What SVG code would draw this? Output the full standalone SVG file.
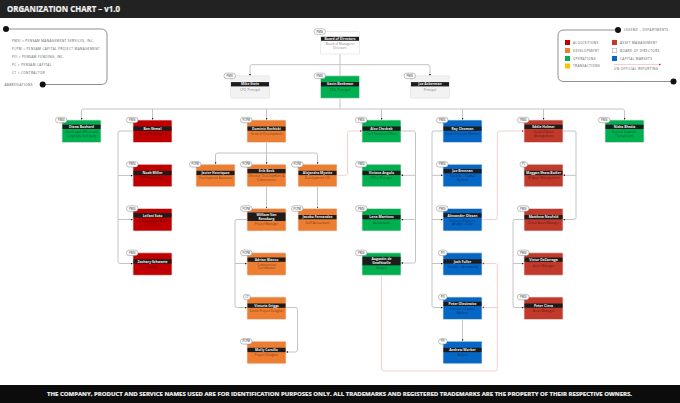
<svg xmlns="http://www.w3.org/2000/svg" width="680" height="403" viewBox="0 0 680 403">
<style>
text{font-family:"Open Sans","Liberation Sans",sans-serif}
.c{fill:none;stroke:#c4c4c4;stroke-width:1;marker-end:url(#a)}
.n{fill:none;stroke:#c4c4c4;stroke-width:1}
.pa{fill:none;stroke:#f4c4c4;stroke-width:.8;marker-end:url(#r)}
.b{width:39px;height:22.5px;rx:1px;stroke:#e4e4e4;stroke-width:.7}
.acq{fill:#c00000}.dev{fill:#ed7d31}.ops{fill:#00b050}.tra{fill:#ffc000}.ast{fill:#c0392b}.bod{fill:#fff}.cap{fill:#0566c4}.pri{fill:#f2f2f2}
.s{fill:#1c1c1c}
.t{font-size:3.4px;font-weight:700;fill:#f2f2f2;text-anchor:middle}
.u{font-size:3px;fill:#000;fill-opacity:.6;text-anchor:middle;letter-spacing:.05px}
.pl{fill:#fff;stroke:#808080;stroke-width:.5}
.pt{font-size:2.8px;fill:#222;text-anchor:middle}
.k{font-size:3.1px;fill:#555;letter-spacing:.39px}
.f{fill:none;stroke:#8f8f8f;stroke-width:1}
.hd{font-weight:700;fill:#f2f2f2;stroke:#f2f2f2;stroke-width:.2}
</style>
<defs>
<marker id="a" markerUnits="userSpaceOnUse" markerWidth="2" markerHeight="2" refX="2" refY="1" orient="auto"><path d="M0 0L2 1L0 2z" fill="#222"/></marker>
<marker id="r" markerUnits="userSpaceOnUse" markerWidth="2.4" markerHeight="2.4" refX="2.4" refY="1.2" orient="auto"><path d="M0 0L2.4 1.2L0 2.4z" fill="#e02020"/></marker>
</defs>
<rect width="680" height="403" fill="#fff"/>
<g id="header"><rect width="680" height="18" fill="#222"/><text class="hd" x="7" y="12.300" font-size="8.400" textLength="113" lengthAdjust="spacingAndGlyphs">ORGANIZATION CHART – v1.0</text></g>
<g id="abbreviations">
<path class="f" d="M6 29H101Q107 29 107 35V79Q107 84.500 101 84.500H43"/>
<circle cx="6" cy="29" r="3" fill="#111"/><circle cx="42.700" cy="84.500" r="3" fill="#111"/>
<text class="k" x="12" y="42">PMSI = PENSAM MANAGEMENT SERVICES, INC.</text>
<text class="k" x="12" y="50">PCPM = PENSAM CAPITAL PROJECT MANAGEMENT</text>
<text class="k" x="12" y="58">PFI = PENSAM FUNDING, INC.</text>
<text class="k" x="12" y="66">PC = PENSAM CAPITAL</text>
<text class="k" x="12" y="74">CT = CONTRACTOR</text>
<text class="k" x="4.500" y="85.500">ABBREVIATIONS</text>
</g>
<g id="legend">
<path class="f" d="M618 30H564Q558 30 558 36V76Q558 81.500 564 81.500H673"/>
<circle cx="618" cy="30" r="3" fill="#111"/><circle cx="673.500" cy="81.500" r="3" fill="#111"/>
<text class="k" x="624" y="31">LEGEND – DEPARTMENTS</text>
<rect class="acq" x="565" y="40" width="5" height="5"/><text class="k" x="573" y="43.500">ACQUISITIONS</text>
<rect class="dev" x="565" y="48" width="5" height="5"/><text class="k" x="573" y="51.500">DEVELOPMENT</text>
<rect class="ops" x="565" y="56" width="5" height="5"/><text class="k" x="573" y="59.500">OPERATIONS</text>
<rect class="tra" x="565" y="63.500" width="5" height="5"/><text class="k" x="573" y="67">TRANSACTIONS</text>
<rect class="ast" x="612" y="40" width="5" height="5"/><text class="k" x="620" y="43.500">ASSET MANAGEMENT</text>
<rect class="bod" x="612.300" y="48.300" width="4.500" height="4.500" stroke="#999" stroke-width=".5"/><text class="k" x="620" y="51.500">BOARD OF DIRECTORS</text>
<rect class="cap" x="612" y="56" width="5" height="5"/><text class="k" x="620" y="59.500">CAPITAL MARKETS</text>
<path class="pa" d="M614 64.500H661"/>
<text class="k" x="614" y="69.500">UN-OFFICIAL REPORTING</text>
</g>
<g id="connectors">
<path class="n" d="M340 54V76"/>
<path class="c" d="M340 64.700H252Q250 64.700 250 66.700V76"/>
<path class="c" d="M340 64.700H428Q430 64.700 430 66.700V76"/>
<path class="n" d="M340 98.500V109"/>
<path class="c" d="M340 109H83Q81.500 109 81.500 111V120"/>
<path class="c" d="M152.500 109V120"/><path class="c" d="M266.500 109V120"/><path class="c" d="M381.500 109V120"/><path class="c" d="M462.500 109V120"/><path class="c" d="M543.500 109V120"/>
<path class="c" d="M340 109H622.500Q624.500 109 624.500 111V120"/>
<path class="c" d="M133 131H120Q118 131 118 133V261.500Q118 263.500 120 263.500H133"/>
<path class="c" d="M118 175.500H133"/><path class="c" d="M118 219.500H133"/>
<path class="c" d="M266.500 142.500V164.300"/>
<path class="c" d="M266.500 153H217.500Q215.500 153 215.500 155V164.300"/>
<path class="c" d="M266.500 153H315.500Q317.500 153 317.500 155V164.300"/>
<path class="c" d="M266.500 186.800V208.500"/>
<path class="c" d="M317.500 186.800V208.500"/>
<path class="c" d="M247 219.500H237Q235 219.500 235 221.500V305.500Q235 307.500 237 307.500H247"/>
<path class="c" d="M235 263.500H247"/>
<path class="c" d="M286 307.500H295.500Q297.500 307.500 297.500 309.500V350Q297.500 352 295.500 352H286"/>
<path class="c" d="M401 131H413.500Q415.500 131 415.500 133V261Q415.500 263 413.500 263H401"/>
<path class="c" d="M415.500 175.300H401"/><path class="c" d="M415.500 219.500H401"/>
<path class="c" d="M443 131H434Q432 131 432 133V305.500Q432 307.500 434 307.500H443"/>
<path class="c" d="M432 175.300H443"/><path class="c" d="M432 219.500H443"/><path class="c" d="M432 263.500H443"/>
<path class="c" d="M462.500 319.500V341.300"/>
<path class="c" d="M563 131H574Q576 131 576 133V217.500Q576 219.500 574 219.500H563"/>
<path class="c" d="M576 175.300H563"/>
<path class="c" d="M524 219.500H515Q513 219.500 513 221.500V305.500Q513 307.500 515 307.500H524"/>
<path class="c" d="M513 263.500H524"/>
<path class="pa" d="M337 175.300H345.500Q347.500 175.300 347.500 173.300V133Q347.500 131 349.500 131H362"/>
<path class="pa" d="M482 219.500H495.300Q497.300 219.500 497.300 217.500V133Q497.300 131 499.300 131H524"/>
<path class="pa" d="M381.500 275.300V369Q381.500 371 383.500 371H495.300Q497.300 371 497.300 369V265.500Q497.300 263.500 495.300 263.500H482"/>
<path class="pa" d="M497.300 307.500H482"/>
</g>
<g id="board" transform="translate(320.500,31.500)"><rect class="b bod"/><rect class="s" x=".5" y="5.300" width="38" height="4"/><text class="t" x="19.500" y="8.500">Board of Directors</text><text class="u" x="19.500" y="13.500">Board of Managers/</text><text class="u" x="19.500" y="17">Directors</text><rect class="pl" x="-6.500" y="-2.700" width="11.500" height="5.500" rx="2.700"/><text class="pt" x="-.7" y="1">PMSI</text></g>
<g id="mike-stein" transform="translate(230.500,75.800)"><rect class="b pri"/><rect class="s" x=".5" y="6.300" width="38" height="4.300"/><text class="t" x="19.500" y="9.700">Mike Stein</text><text class="u" x="19.500" y="15">CFO, Principal</text><rect class="pl" x="-6.500" y="-2.700" width="11.500" height="5.500" rx="2.700"/><text class="pt" x="-.7" y="1">PMSI</text></g>
<g id="gavin-beekman" transform="translate(320.500,75.800)"><rect class="b ops"/><rect class="s" x=".5" y="6.300" width="38" height="4.300"/><text class="t" x="19.500" y="9.700">Gavin Beekman</text><text class="u" x="19.500" y="15">CEO, Principal</text><rect class="pl" x="-6.500" y="-2.700" width="11.500" height="5.500" rx="2.700"/><text class="pt" x="-.7" y="1">PMSI</text></g>
<g id="joe-ackerman" transform="translate(410.500,75.800)"><rect class="b pri"/><rect class="s" x=".5" y="6.300" width="38" height="4.300"/><text class="t" x="19.500" y="9.700">Joe Ackerman</text><text class="u" x="19.500" y="15">Principal</text><rect class="pl" x="-6.500" y="-2.700" width="11.500" height="5.500" rx="2.700"/><text class="pt" x="-.7" y="1">PMSI</text></g>
<g id="diana-bushard" transform="translate(62,120)"><rect class="b ops"/><rect class="s" x=".5" y="4.700" width="38" height="4.300"/><text class="t" x="19.500" y="8.100">Diana Bushard</text><text class="u" x="19.500" y="13">Chief Legal Officer and</text><text class="u" x="19.500" y="16.500">Corporate Secretary</text><rect class="pl" x="-6.500" y="-2.700" width="11.500" height="5.500" rx="2.700"/><text class="pt" x="-.7" y="1">PMSI</text></g>
<g id="ben-shmal" transform="translate(133,120)"><rect class="b acq"/><rect class="s" x=".5" y="6.500" width="38" height="4.300"/><text class="t" x="19.500" y="9.900">Ben Shmal</text><text class="u" x="19.500" y="15">Head of Acquisitions</text><rect class="pl" x="-6.500" y="-2.700" width="11.500" height="5.500" rx="2.700"/><text class="pt" x="-.7" y="1">PMSI</text></g>
<g id="noah-miller" transform="translate(133,164.300)"><rect class="b acq"/><rect class="s" x=".5" y="6.500" width="38" height="4.300"/><text class="t" x="19.500" y="9.900">Noah Miller</text><text class="u" x="19.500" y="15">VP Acquisitions</text><rect class="pl" x="-6.500" y="-2.700" width="11.500" height="5.500" rx="2.700"/><text class="pt" x="-.7" y="1">PMSI</text></g>
<g id="leilani-soto" transform="translate(133,208.500)"><rect class="b acq"/><rect class="s" x=".5" y="4.700" width="38" height="4.300"/><text class="t" x="19.500" y="8.100">Leilani Soto</text><text class="u" x="19.500" y="13">VP Acquisitions &amp; Due</text><text class="u" x="19.500" y="16.500">Diligence</text><rect class="pl" x="-6.500" y="-2.700" width="11.500" height="5.500" rx="2.700"/><text class="pt" x="-.7" y="1">PMSI</text></g>
<g id="zachary-schwartz" transform="translate(133,252.800)"><rect class="b acq"/><rect class="s" x=".5" y="6.500" width="38" height="4.300"/><text class="t" x="19.500" y="9.900">Zachary Schwartz</text><text class="u" x="19.500" y="15">Analyst</text><rect class="pl" x="-6.500" y="-2.700" width="11.500" height="5.500" rx="2.700"/><text class="pt" x="-.7" y="1">PMSI</text></g>
<g id="dominic-rechicki" transform="translate(247,120)"><rect class="b dev"/><rect class="s" x=".5" y="6.500" width="38" height="4.300"/><text class="t" x="19.500" y="9.900">Dominic Rechicki</text><text class="u" x="19.500" y="15">Head of Development</text><rect class="pl" x="-6.500" y="-2.700" width="11.500" height="5.500" rx="2.700"/><text class="pt" x="-.7" y="1">PCPM</text></g>
<g id="javier-henriquez" transform="translate(196,164.300)"><rect class="b dev"/><rect class="s" x=".5" y="6.500" width="38" height="4.300"/><text class="t" x="19.500" y="9.900">Javier Henriquez</text><text class="u" x="19.500" y="15">Development Associate</text><rect class="pl" x="-6.500" y="-2.700" width="11.500" height="5.500" rx="2.700"/><text class="pt" x="-.7" y="1">PCPM</text></g>
<g id="erik-beck" transform="translate(247,164.300)"><rect class="b dev"/><rect class="s" x=".5" y="4.700" width="38" height="4.300"/><text class="t" x="19.500" y="8.100">Erik Beck</text><text class="u" x="19.500" y="12.800">Director, Development &amp;</text><text class="u" x="19.500" y="16.800">Construction</text><rect class="pl" x="-6.500" y="-2.700" width="11.500" height="5.500" rx="2.700"/><text class="pt" x="-.7" y="1">PCPM</text></g>
<g id="alejandra-myette" transform="translate(298,164.300)"><rect class="b dev"/><rect class="s" x=".5" y="6.500" width="38" height="4.300"/><text class="t" x="19.500" y="9.900">Alejandra Myette</text><text class="u" x="19.500" y="15">Development CIO</text><rect class="pl" x="-6.500" y="-2.700" width="11.500" height="5.500" rx="2.700"/><text class="pt" x="-.7" y="1">PCPM</text></g>
<g id="william-van-rensburg" transform="translate(247,208.500)"><rect class="b dev"/><rect class="s" x=".5" y="4" width="38" height="8.500"/><text class="t" x="19.500" y="7.300">William Van</text><text class="t" x="19.500" y="11.200">Rensburg</text><text class="u" x="19.500" y="16">Project Manager</text><rect class="pl" x="-6.500" y="-2.700" width="11.500" height="5.500" rx="2.700"/><text class="pt" x="-.7" y="1">PCPM</text></g>
<g id="jacobo-fernandez" transform="translate(298,208.500)"><rect class="b dev"/><rect class="s" x=".5" y="6.500" width="38" height="4.300"/><text class="t" x="19.500" y="9.900">Jacobo Fernandez</text><text class="u" x="19.500" y="15">Staff Accountant</text><rect class="pl" x="-6.500" y="-2.700" width="11.500" height="5.500" rx="2.700"/><text class="pt" x="-.7" y="1">PCPM</text></g>
<g id="adrian-blanco" transform="translate(247,252.800)"><rect class="b dev"/><rect class="s" x=".5" y="4.700" width="38" height="4.300"/><text class="t" x="19.500" y="8.100">Adrian Blanco</text><text class="u" x="19.500" y="13">Construction</text><text class="u" x="19.500" y="16.500">Coordinator</text><rect class="pl" x="-6.500" y="-2.700" width="11.500" height="5.500" rx="2.700"/><text class="pt" x="-.7" y="1">PCPM</text></g>
<g id="victoria-griggs" transform="translate(247,297)"><rect class="b dev"/><rect class="s" x=".5" y="6.500" width="38" height="4.300"/><text class="t" x="19.500" y="9.900">Victoria Griggs</text><text class="u" x="19.500" y="15">Senior Project Designer</text><rect class="pl" x="-3.700" y="-2.700" width="7" height="5.500" rx="2.700"/><text class="pt" x="-.2" y="1">CT</text></g>
<g id="molly-corsillo" transform="translate(247,341.300)"><rect class="b dev"/><rect class="s" x=".5" y="6.500" width="38" height="4.300"/><text class="t" x="19.500" y="9.900">Molly Corsillo</text><text class="u" x="19.500" y="15">Project Designer</text><rect class="pl" x="-6.500" y="-2.700" width="11.500" height="5.500" rx="2.700"/><text class="pt" x="-.7" y="1">PCPM</text></g>
<g id="alex-chedrak" transform="translate(362,120)"><rect class="b ops"/><rect class="s" x=".5" y="6.500" width="38" height="4.300"/><text class="t" x="19.500" y="9.900">Alex Chedrak</text><text class="u" x="19.500" y="15">Chief Financial Officer</text><rect class="pl" x="-6.500" y="-2.700" width="11.500" height="5.500" rx="2.700"/><text class="pt" x="-.7" y="1">PMSI</text></g>
<g id="viviana-angulo" transform="translate(362,164.300)"><rect class="b ops"/><rect class="s" x=".5" y="6.500" width="38" height="4.300"/><text class="t" x="19.500" y="9.900">Viviana Angulo</text><text class="u" x="19.500" y="15">Office Manager</text><rect class="pl" x="-6.500" y="-2.700" width="11.500" height="5.500" rx="2.700"/><text class="pt" x="-.7" y="1">PMSI</text></g>
<g id="lena-martinez" transform="translate(362,208.500)"><rect class="b ops"/><rect class="s" x=".5" y="6.500" width="38" height="4.300"/><text class="t" x="19.500" y="9.900">Lena Martinez</text><text class="u" x="19.500" y="15">Accountant</text><rect class="pl" x="-6.500" y="-2.700" width="11.500" height="5.500" rx="2.700"/><text class="pt" x="-.7" y="1">PMSI</text></g>
<g id="augustin-de-gnaftiselle" transform="translate(362,252.800)"><rect class="b ops"/><rect class="s" x=".5" y="4" width="38" height="8.500"/><text class="t" x="19.500" y="7.300">Augustin de</text><text class="t" x="19.500" y="11.200">Gnaftiselle</text><text class="u" x="19.500" y="16">Analyst</text><rect class="pl" x="-6.500" y="-2.700" width="11.500" height="5.500" rx="2.700"/><text class="pt" x="-.7" y="1">PMSI</text></g>
<g id="ray-cleeman" transform="translate(443,120)"><rect class="b cap"/><rect class="s" x=".5" y="6.500" width="38" height="4.300"/><text class="t" x="19.500" y="9.900">Ray Cleeman</text><text class="u" x="19.500" y="15">Head of Capital Markets</text><rect class="pl" x="-6.500" y="-2.700" width="11.500" height="5.500" rx="2.700"/><text class="pt" x="-.7" y="1">PMSI</text></g>
<g id="joe-brennan" transform="translate(443,164.300)"><rect class="b cap"/><rect class="s" x=".5" y="4.700" width="38" height="4.300"/><text class="t" x="19.500" y="8.100">Joe Brennan</text><text class="u" x="19.500" y="13">Director – Capital</text><text class="u" x="19.500" y="16.500">Markets</text><rect class="pl" x="-6.500" y="-2.700" width="11.500" height="5.500" rx="2.700"/><text class="pt" x="-.7" y="1">PMSI</text></g>
<g id="alexander-olesen" transform="translate(443,208.500)"><rect class="b cap"/><rect class="s" x=".5" y="4.700" width="38" height="4.300"/><text class="t" x="19.500" y="8.100">Alexander Olesen</text><text class="u" x="19.500" y="13">Investor Relations</text><text class="u" x="19.500" y="16.500">Analyst – Debt</text><rect class="pl" x="-6.500" y="-2.700" width="11.500" height="5.500" rx="2.700"/><text class="pt" x="-.7" y="1">PMSI</text></g>
<g id="josh-fuller" transform="translate(443,252.800)"><rect class="b cap"/><rect class="s" x=".5" y="6.500" width="38" height="4.300"/><text class="t" x="19.500" y="9.900">Josh Fuller</text><text class="u" x="19.500" y="15">Director – Accounting</text><rect class="pl" x="-4.500" y="-2.700" width="8.500" height="5.500" rx="2.700"/><text class="pt" x="-.2" y="1">PFI</text></g>
<g id="peter-olesiewicz" transform="translate(443,297)"><rect class="b cap"/><rect class="s" x=".5" y="4.700" width="38" height="4.300"/><text class="t" x="19.500" y="8.100">Peter Olesiewicz</text><text class="u" x="19.500" y="13">Director – Capital</text><text class="u" x="19.500" y="16.500">Markets</text><rect class="pl" x="-4.500" y="-2.700" width="8.500" height="5.500" rx="2.700"/><text class="pt" x="-.2" y="1">PFI</text></g>
<g id="andrew-worker" transform="translate(443,341.300)"><rect class="b cap"/><rect class="s" x=".5" y="6.500" width="38" height="4.300"/><text class="t" x="19.500" y="9.900">Andrew Worker</text><text class="u" x="19.500" y="15">Analyst</text><rect class="pl" x="-4.500" y="-2.700" width="8.500" height="5.500" rx="2.700"/><text class="pt" x="-.2" y="1">PFI</text></g>
<g id="eddie-helmer" transform="translate(524,120)"><rect class="b ast"/><rect class="s" x=".5" y="4.700" width="38" height="4.300"/><text class="t" x="19.500" y="8.100">Eddie Helmer</text><text class="u" x="19.500" y="13">Head of Asset</text><text class="u" x="19.500" y="16.500">Management</text><rect class="pl" x="-6.500" y="-2.700" width="11.500" height="5.500" rx="2.700"/><text class="pt" x="-.7" y="1">PMSI</text></g>
<g id="meggan-shaw-butler" transform="translate(524,164.300)"><rect class="b ast"/><rect class="s" x=".5" y="6.500" width="38" height="4.300"/><text class="t" x="19.500" y="9.900">Meggan Shaw-Butler</text><text class="u" x="19.500" y="15">VP Asset Management</text><rect class="pl" x="-4" y="-2.700" width="7.500" height="5.500" rx="2.700"/><text class="pt" x="-.2" y="1">PC</text></g>
<g id="matthew-neufeld" transform="translate(524,208.500)"><rect class="b ast"/><rect class="s" x=".5" y="6.500" width="38" height="4.300"/><text class="t" x="19.500" y="9.900">Matthew Neufeld</text><text class="u" x="19.500" y="15">Senior Asset Manager</text><rect class="pl" x="-6.500" y="-2.700" width="11.500" height="5.500" rx="2.700"/><text class="pt" x="-.7" y="1">PMSI</text></g>
<g id="victor-dezarraga" transform="translate(524,252.800)"><rect class="b ast"/><rect class="s" x=".5" y="4.700" width="38" height="4.300"/><text class="t" x="19.500" y="8.100">Victor DeZarraga</text><text class="u" x="19.500" y="14">Asset Manager</text><rect class="pl" x="-6.500" y="-2.700" width="11.500" height="5.500" rx="2.700"/><text class="pt" x="-.7" y="1">PMSI</text></g>
<g id="peter-cieca" transform="translate(524,297)"><rect class="b ast"/><rect class="s" x=".5" y="6.500" width="38" height="4.300"/><text class="t" x="19.500" y="9.900">Peter Cieca</text><text class="u" x="19.500" y="15">Asset Manager</text><rect class="pl" x="-6.500" y="-2.700" width="11.500" height="5.500" rx="2.700"/><text class="pt" x="-.7" y="1">PMSI</text></g>
<g id="nisha-bhatia" transform="translate(605,120)"><rect class="b ops"/><rect class="s" x=".5" y="4.700" width="38" height="4.300"/><text class="t" x="19.500" y="8.100">Nisha Bhatia</text><text class="u" x="19.500" y="13">General Counsel -</text><text class="u" x="19.500" y="16.500">Transactions</text><rect class="pl" x="-6.500" y="-2.700" width="11.500" height="5.500" rx="2.700"/><text class="pt" x="-.7" y="1">PMSI</text></g>
<g id="footer"><rect y="385" width="680" height="18" fill="#0c0c0c"/><text class="hd" x="47" y="396" font-size="6" textLength="585" lengthAdjust="spacingAndGlyphs">THE COMPANY, PRODUCT AND SERVICE NAMES USED ARE FOR IDENTIFICATION PURPOSES ONLY. ALL TRADEMARKS AND REGISTERED TRADEMARKS ARE THE PROPERTY OF THEIR RESPECTIVE OWNERS.</text></g>
</svg>
